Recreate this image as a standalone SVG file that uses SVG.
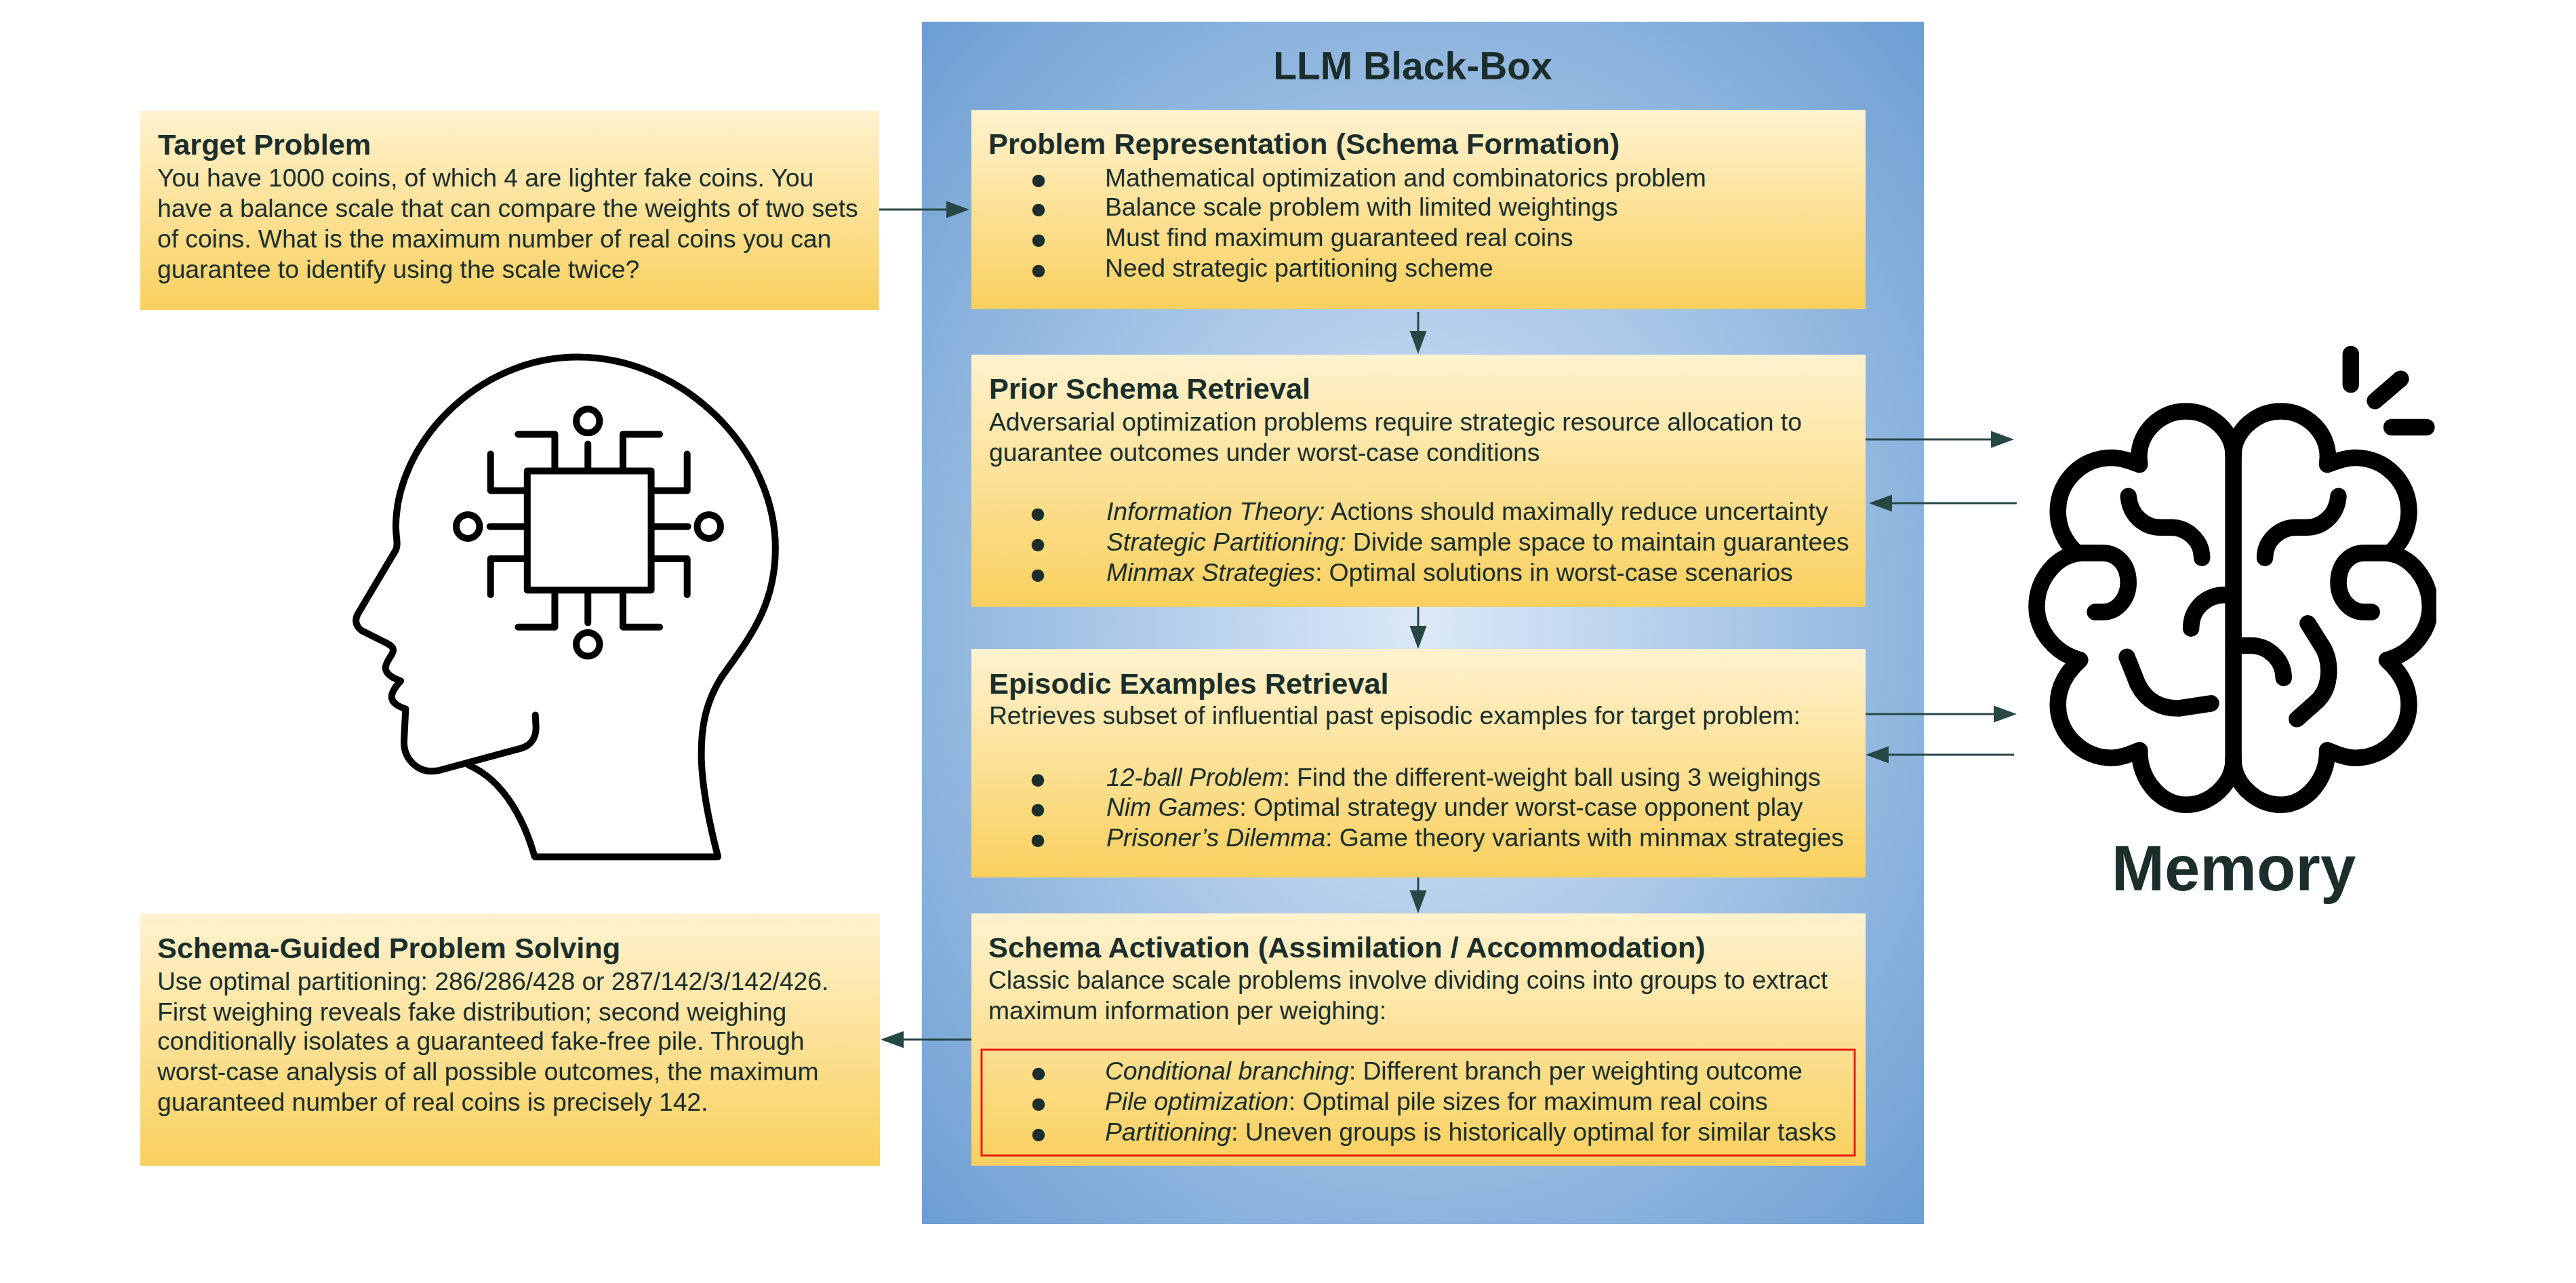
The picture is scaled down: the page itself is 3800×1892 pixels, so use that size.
<svg xmlns="http://www.w3.org/2000/svg" width="3800" height="1892" viewBox="0 0 3800 1892">
<defs>
<linearGradient id="gold" x1="0" y1="0" x2="0" y2="1"><stop offset="0" stop-color="#fff2cf"/><stop offset="1" stop-color="#f9d05e"/></linearGradient>
<radialGradient id="blue" cx="0.5" cy="0.5" r="0.71"><stop offset="0" stop-color="#dce9f8"/><stop offset="1" stop-color="#6c9ed3"/></radialGradient>
<marker id="ah" markerUnits="userSpaceOnUse" markerWidth="36" markerHeight="28" refX="24" refY="14" orient="auto"><path d="M0 1.5L34 14L0 26.500Z" fill="#274745"/></marker>
<clipPath id="brainclip"><rect x="2950" y="480" width="644" height="860"/></clipPath>
<style>
text{font-family:"Liberation Sans",Arial,sans-serif;fill:#1b2e2b}
.t{font-size:43.3px;font-weight:bold}
.b{font-size:37.2px}
.d{font-size:24px;font-family:"DejaVu Sans",sans-serif;text-anchor:middle}
.box{fill:url(#gold)}
.c{fill:none;stroke:#274745;stroke-width:3;marker-end:url(#ah)}
.ink{fill:none;stroke:#000;stroke-linecap:round;stroke-linejoin:round;vector-effect:non-scaling-stroke}
.h{stroke-width:10}
.m{stroke-width:24.500}
</style>
</defs>
<rect width="3800" height="1892" fill="#fff"/>
<g id="llm-black-box">
<rect x="1360" y="32" width="1478" height="1773" fill="url(#blue)"/>
<text x="2084" y="117" font-size="57" font-weight="bold" text-anchor="middle">LLM Black-Box</text>
</g>
<g id="target-problem">
<rect class="box" x="207" y="163" width="1090" height="294"/>
<text class="t" x="233" y="228">Target Problem</text>
<text class="b" x="232" y="275">You have 1000 coins, of which 4 are lighter fake coins. You</text>
<text class="b" x="232" y="320">have a balance scale that can compare the weights of two sets</text>
<text class="b" x="232" y="365">of coins. What is the maximum number of real coins you can</text>
<text class="b" x="232" y="410">guarantee to identify using the scale twice?</text>
</g>
<g id="problem-representation">
<rect class="box" x="1433" y="162" width="1319" height="294"/>
<text class="t" x="1458" y="227">Problem Representation (Schema Formation)</text>
<text class="d" x="1532" y="273">●</text><text class="b" x="1630" y="275">Mathematical optimization and combinatorics problem</text>
<text class="d" x="1532" y="316">●</text><text class="b" x="1630" y="318">Balance scale problem with limited weightings</text>
<text class="d" x="1532" y="361">●</text><text class="b" x="1630" y="363">Must find maximum guaranteed real coins</text>
<text class="d" x="1532" y="406">●</text><text class="b" x="1630" y="408">Need strategic partitioning scheme</text>
</g>
<g id="prior-schema-retrieval">
<rect class="box" x="1433" y="523" width="1319" height="372"/>
<text class="t" x="1459" y="588">Prior Schema Retrieval</text>
<text class="b" x="1459" y="635">Adversarial optimization problems require strategic resource allocation to</text>
<text class="b" x="1459" y="680">guarantee outcomes under worst-case conditions</text>
<text class="d" x="1531" y="765">●</text><text class="b" x="1632" y="767"><tspan font-style="italic">Information Theory:</tspan> Actions should maximally reduce uncertainty</text>
<text class="d" x="1531" y="810">●</text><text class="b" x="1632" y="812"><tspan font-style="italic">Strategic Partitioning:</tspan> Divide sample space to maintain guarantees</text>
<text class="d" x="1531" y="855">●</text><text class="b" x="1632" y="857"><tspan font-style="italic">Minmax Strategies</tspan>: Optimal solutions in worst-case scenarios</text>
</g>
<g id="episodic-examples-retrieval">
<rect class="box" x="1433" y="957" width="1319" height="337"/>
<text class="t" x="1459" y="1023">Episodic Examples Retrieval</text>
<text class="b" x="1459" y="1068">Retrieves subset of influential past episodic examples for target problem:</text>
<text class="d" x="1531" y="1157">●</text><text class="b" x="1632" y="1159"><tspan font-style="italic">12-ball Problem</tspan>: Find the different-weight ball using 3 weighings</text>
<text class="d" x="1531" y="1201">●</text><text class="b" x="1632" y="1203"><tspan font-style="italic">Nim Games</tspan>: Optimal strategy under worst-case opponent play</text>
<text class="d" x="1531" y="1246">●</text><text class="b" x="1632" y="1248"><tspan font-style="italic">Prisoner’s Dilemma</tspan>: Game theory variants with minmax strategies</text>
</g>
<g id="schema-activation">
<rect class="box" x="1433" y="1347" width="1319" height="372"/>
<text class="t" x="1458" y="1412">Schema Activation (Assimilation / Accommodation)</text>
<text class="b" x="1458" y="1458">Classic balance scale problems involve dividing coins into groups to extract</text>
<text class="b" x="1458" y="1503">maximum information per weighing:</text>
<rect x="1448" y="1548" width="1288" height="156" fill="none" stroke="#ee1c10" stroke-width="3"/>
<text class="d" x="1532" y="1590">●</text><text class="b" x="1630" y="1592"><tspan font-style="italic">Conditional branching</tspan>: Different branch per weighting outcome</text>
<text class="d" x="1532" y="1635">●</text><text class="b" x="1630" y="1637"><tspan font-style="italic">Pile optimization</tspan>: Optimal pile sizes for maximum real coins</text>
<text class="d" x="1532" y="1680">●</text><text class="b" x="1630" y="1682"><tspan font-style="italic">Partitioning</tspan>: Uneven groups is historically optimal for similar tasks</text>
</g>
<g id="schema-guided-problem-solving">
<rect class="box" x="207" y="1347" width="1091" height="372"/>
<text class="t" x="232" y="1413">Schema-Guided Problem Solving</text>
<text class="b" x="232" y="1460">Use optimal partitioning: 286/286/428 or 287/142/3/142/426.</text>
<text class="b" x="232" y="1505">First weighing reveals fake distribution; second weighing</text>
<text class="b" x="232" y="1548">conditionally isolates a guaranteed fake-free pile. Through</text>
<text class="b" x="232" y="1593">worst-case analysis of all possible outcomes, the maximum</text>
<text class="b" x="232" y="1638">guaranteed number of real coins is precisely 142.</text>
</g>
<g id="connectors">
<line class="c" x1="1297" y1="309" x2="1420" y2="309"/>
<line class="c" x1="2092" y1="460" x2="2092" y2="512"/>
<line class="c" x1="2092" y1="895" x2="2092" y2="947"/>
<line class="c" x1="2092" y1="1294" x2="2092" y2="1337"/>
<line class="c" x1="1433" y1="1533" x2="1309" y2="1533"/>
<line class="c" x1="2752" y1="648" x2="2961" y2="648"/>
<line class="c" x1="2975" y1="742" x2="2767" y2="742"/>
<line class="c" x1="2752" y1="1053" x2="2965" y2="1053"/>
<line class="c" x1="2971" y1="1113" x2="2762" y2="1113"/>
</g>
<g id="head-icon" transform="translate(450 480) scale(.4785 .5294)">
<path class="ink h" d="M708 1480L1273 1480C1250 1400 1225 1300 1222 1210C1220 1130 1230 1060 1280 985C1360 880 1450 790 1450 620C1450 350 1170 88 840 88C530 88 280 330 280 560C280 590 288 610 280 625L165 800C152 818 155 838 175 850L230 875C250 885 272 890 272 905C270 920 248 935 248 955C250 975 280 985 295 990C285 1000 272 1012 268 1028C262 1050 290 1062 310 1068L305 1160C305 1210 350 1250 410 1240L665 1178C695 1170 712 1150 712 1120L710 1085M505 1225C620 1270 680 1390 708 1480"/>
<rect class="ink h" x="685" y="405" width="382" height="332"/>
<path class="ink h" d="M770 397V303H657M872 330V397M980 397V303H1093M770 745V840H657M872 745V828M980 745V840H1093M680 460H572V358M680 560H570M680 650H572V750M1075 460H1178V358M1075 560H1180M1075 650H1178V750"/>
<ellipse class="ink h" cx="872" cy="266" rx="36" ry="33"/>
<ellipse class="ink h" cx="872" cy="888" rx="36" ry="33"/>
<ellipse class="ink h" cx="502" cy="560" rx="36" ry="33"/>
<ellipse class="ink h" cx="1245" cy="560" rx="36" ry="33"/>
</g>
<g id="memory">
<g clip-path="url(#brainclip)">
<g transform="translate(2950 480) scale(.4464 .5618)">
<g id="brain-half">
<path class="ink m" d="M772 340C772 280 700 225 615 225C530 225 460 280 460 345L462 365C430 355 400 347 370 347C270 347 192 410 192 488C192 530 215 570 255 597H340C390 597 425 630 425 675C425 715 390 752 340 752H315M270 597C190 600 122 665 122 738C122 800 180 860 265 878C220 910 192 950 192 995C192 1070 270 1135 370 1135C400 1135 430 1125 462 1115C460 1190 530 1258 615 1258C700 1258 772 1200 772 1140"/>
<path class="ink m" d="M425 448C430 500 480 530 530 530H565C620 530 668 565 668 610"/>
</g>
<g transform="translate(1544 0) scale(-1 1)">
<path class="ink m" d="M772 340C772 280 700 225 615 225C530 225 460 280 460 345L462 365C430 355 400 347 370 347C270 347 192 410 192 488C192 530 215 570 255 597H340C390 597 425 630 425 675C425 715 390 752 340 752H315M270 597C190 600 122 665 122 738C122 800 180 860 265 878C220 910 192 950 192 995C192 1070 270 1135 370 1135C400 1135 430 1125 462 1115C460 1190 530 1258 615 1258C700 1258 772 1200 772 1140"/>
<path class="ink m" d="M425 448C430 500 480 530 530 530H565C620 530 668 565 668 610"/>
</g>
<path class="ink m" d="M772 340V1140M632 795C632 745 680 707 745 707H772M420 870L455 940C485 990 540 1005 590 1005L698 992M772 840H830C890 840 938 880 938 925M1018 782L1060 835C1100 880 1095 950 1050 985L982 1033M1160 75V155M1325 140L1240 198M1295 267H1410"/>
</g>
</g>
<text x="3295" y="1313" font-size="94" font-weight="bold" text-anchor="middle">Memory</text>
</g>
</svg>
